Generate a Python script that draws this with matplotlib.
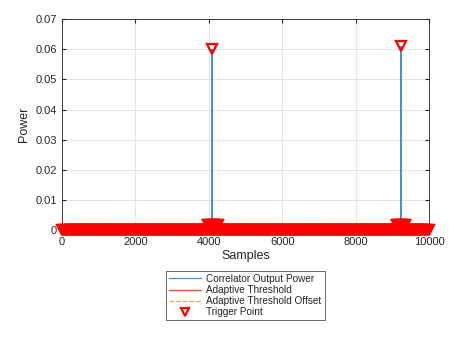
import matplotlib
matplotlib.use('Agg')
import matplotlib.pyplot as plt
import numpy as np

plt.rcParams['font.family'] = ['Liberation Sans', 'DejaVu Sans']

# data
n_samples = 10000
peak_samples = [4087, 9237]
peak_power = [0.0600, 0.0610]
# trigger markers along the floor, and the slightly raised ones around each peak
floor_step = 20
bump_ranges = [(3970, 4250), (9120, 9370)]
bump_level = 0.0016
threshold_level = 0.0004
offset_level = 0.0006

samples = np.arange(n_samples + 1)
power = np.zeros(n_samples + 1)
power[peak_samples] = peak_power
threshold = np.full(n_samples + 1, threshold_level)
offset = np.full(n_samples + 1, offset_level)

trig_x = list(range(0, n_samples + 1, floor_step))
trig_y = [0.0] * len(trig_x)
for lo, hi in bump_ranges:
    bx = list(range(lo, hi + 1, floor_step))
    trig_x += bx
    trig_y += [bump_level] * len(bx)
trig_x += peak_samples
trig_y += peak_power

blue = (0, 0.447, 0.741)
orange = (0.85, 0.325, 0.098)
yellow = (0.929, 0.694, 0.125)
txt = '#262626'

fig = plt.figure(figsize=(4.74, 3.55), dpi=100)
ax = fig.add_axes([0.131, 0.352, 0.774, 0.594])
ax.plot(samples, power, color=blue, lw=0.9, alpha=0.75, label='Correlator Output Power')
ax.plot(samples, threshold, color=orange, lw=0.9, label='Adaptive Threshold')
ax.plot(samples, offset, color=yellow, lw=0.9, ls='--', label='Adaptive Threshold Offset')
ax.plot(trig_x, trig_y, ls='none', marker='v', ms=7, mfc='none', mec='red', mew=1.6,
        label='Trigger Point', clip_on=False, zorder=5)

ax.set_xlim(0, 10000)
ax.set_ylim(0, 0.07)
ax.set_xticks([0, 2000, 4000, 6000, 8000, 10000])
ax.set_yticks([0, 0.01, 0.02, 0.03, 0.04, 0.05, 0.06, 0.07])
ax.set_yticklabels(['0', '0.01', '0.02', '0.03', '0.04', '0.05', '0.06', '0.07'])
ax.grid(True, color='#dfdfdf', lw=0.6)
ax.set_axisbelow(True)
ax.tick_params(direction='in', length=3, labelsize=8, colors=txt, top=True, right=True,
               labeltop=False, labelright=False)
ax.tick_params(axis='x', pad=5)
for s in ax.spines.values():
    s.set_color(txt)
    s.set_linewidth(0.6)
ax.set_xlabel('Samples', fontsize=9, color=txt, labelpad=2)
ax.set_ylabel('Power', fontsize=9, color=txt, labelpad=4)

leg = ax.legend(loc='upper center', bbox_to_anchor=(0.5, -0.17), fontsize=7.2, frameon=True,
                fancybox=False, edgecolor=txt, handlelength=3.2, borderpad=0.3,
                labelspacing=0.12, handletextpad=0.5, markerscale=0.85)
leg.get_frame().set_linewidth(0.6)
for t in leg.get_texts():
    t.set_color(txt)

fig.savefig('out.png', dpi=100)
